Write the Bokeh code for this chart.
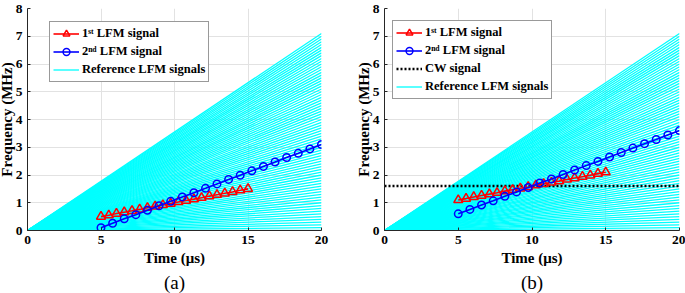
from bokeh.plotting import figure
from bokeh.layouts import row
from bokeh.models import Range1d, Legend, LegendItem, Title, FixedTicker
from bokeh.embed import file_html
from bokeh.resources import INLINE

# ---------------- data ----------------
time_ticks = [0, 5, 10, 15, 20]
freq_ticks = [0, 1, 2, 3, 4, 5, 6, 7, 8]

# reference LFM fan: each line starts at (0 us, 0 MHz) and ends at (20 us, end freq)
ref_t = [0.0, 20.0]
ref_end_freq = [0.0, 0.1, 0.2, 0.3, 0.4, 0.5, 0.6, 0.7, 0.8, 0.9,
                1.0, 1.1, 1.2, 1.3, 1.4, 1.5, 1.6, 1.7, 1.8, 1.9,
                2.0, 2.1, 2.2, 2.3, 2.4, 2.5, 2.6, 2.7, 2.8, 2.9,
                3.0, 3.1, 3.2, 3.3, 3.4, 3.5, 3.6, 3.7, 3.8, 3.9,
                4.0, 4.1, 4.2, 4.3, 4.4, 4.5, 4.6, 4.7, 4.8, 4.9,
                5.0, 5.1, 5.2, 5.3, 5.4, 5.5, 5.6, 5.7, 5.8, 5.9,
                6.0, 6.1, 6.2, 6.3, 6.4, 6.5, 6.6, 6.7, 6.8, 6.9,
                7.0, 7.1]

lfm1_t = [5.00, 5.53, 6.05, 6.58, 7.11, 7.63, 8.16, 8.68, 9.21, 9.74,
          10.26, 10.79, 11.32, 11.84, 12.37, 12.89, 13.42, 13.95, 14.47, 15.00]
lfm1_f_a = [0.50, 0.55, 0.61, 0.66, 0.71, 0.76, 0.82, 0.87, 0.92, 0.97,
            1.03, 1.08, 1.13, 1.18, 1.24, 1.29, 1.34, 1.39, 1.45, 1.50]
lfm1_f_b = [1.10, 1.15, 1.21, 1.26, 1.31, 1.36, 1.42, 1.47, 1.52, 1.57,
            1.63, 1.68, 1.73, 1.78, 1.84, 1.89, 1.94, 1.99, 2.05, 2.10]

lfm2_t = [5.00, 5.79, 6.58, 7.37, 8.16, 8.95, 9.74, 10.53, 11.32, 12.11,
          12.89, 13.68, 14.47, 15.26, 16.05, 16.84, 17.63, 18.42, 19.21, 20.00]
lfm2_f_a = [0.10, 0.26, 0.42, 0.57, 0.73, 0.89, 1.05, 1.21, 1.36, 1.52,
            1.68, 1.84, 1.99, 2.15, 2.31, 2.47, 2.63, 2.78, 2.94, 3.10]
lfm2_f_b = [0.60, 0.76, 0.92, 1.07, 1.23, 1.39, 1.55, 1.71, 1.86, 2.02,
            2.18, 2.34, 2.49, 2.65, 2.81, 2.97, 3.13, 3.28, 3.44, 3.60]

cw_t = [0.0, 20.0]
cw_f = [1.6, 1.6]

labels_lfm1 = "1ˢᵗ LFM signal"
labels_lfm2 = "2ⁿᵈ LFM signal"
label_cw = "CW signal"
label_ref = "Reference LFM signals"

SERIF = "Liberation Serif"
AX = "#262626"


def make_panel(caption, f1, f2, with_cw, width, bl, br, legend_loc):
    p = figure(width=width, height=293, output_backend="svg", toolbar_location=None,
               x_range=Range1d(0, 20), y_range=Range1d(0, 8),
               min_border_left=bl, min_border_right=br, min_border_top=8,
               min_border_bottom=62)
    p.outline_line_color = None
    p.background_fill_color = "white"

    # reference fan
    xs = [ref_t for _ in ref_end_freq]
    ys = [[0.0, f] for f in ref_end_freq]
    ref = p.multi_line(xs, ys, line_color="#00ffff", line_width=1.3)

    items = []
    cw = None
    if with_cw:
        cw = p.line(cw_t, cw_f, line_color="black", line_width=2.5, line_dash="2 2")

    l1 = p.line(lfm1_t, f1, line_color="#ff0000", line_width=1.6)
    s1 = p.scatter(lfm1_t, f1, marker="triangle", size=9, line_color="#ff0000",
                   fill_color=None, line_width=1.5)
    l2 = p.line(lfm2_t, f2, line_color="#0000ff", line_width=1.6)
    s2 = p.scatter(lfm2_t, f2, marker="circle", size=7.5, line_color="#0000ff",
                   fill_color=None, line_width=1.5)

    items.append(LegendItem(label=labels_lfm1, renderers=[l1, s1]))
    items.append(LegendItem(label=labels_lfm2, renderers=[l2, s2]))
    if with_cw:
        items.append(LegendItem(label=label_cw, renderers=[cw]))
    items.append(LegendItem(label=label_ref, renderers=[ref]))

    leg = Legend(items=items, location=legend_loc)
    leg.label_text_font = SERIF
    leg.label_text_font_style = "bold"
    leg.label_text_font_size = "12.5px"
    leg.label_text_color = "black"
    leg.glyph_width = 26
    leg.glyph_height = 17
    leg.label_height = 17
    leg.label_standoff = 3
    leg.spacing = 1
    leg.padding = 3
    leg.margin = 0
    leg.border_line_color = "#333333"
    leg.border_line_width = 1
    leg.background_fill_alpha = 1
    p.add_layout(leg, "center")

    # grid
    for g in (p.xgrid, p.ygrid):
        g.grid_line_color = "#e2e2e2"
        g.grid_line_width = 1
    p.xaxis.ticker = FixedTicker(ticks=time_ticks)
    p.yaxis.ticker = FixedTicker(ticks=freq_ticks)
    p.xgrid.ticker = FixedTicker(ticks=time_ticks)
    p.ygrid.ticker = FixedTicker(ticks=freq_ticks)

    for ax in (p.xaxis[0], p.yaxis[0]):
        ax.axis_line_color = AX
        ax.major_tick_line_color = AX
        ax.major_tick_in = 3
        ax.major_tick_out = 0
        ax.minor_tick_line_color = None
        ax.major_label_text_font = SERIF
        ax.major_label_text_font_style = "bold"
        ax.major_label_text_font_size = "13.5px"
        ax.major_label_text_color = "black"
        ax.axis_label_text_font = SERIF
        ax.axis_label_text_font_style = "bold"
        ax.axis_label_text_font_size = "15px"
        ax.axis_label_text_color = "black"
    p.xaxis.axis_label = "Time (μs)"
    p.yaxis.axis_label = "Frequency (MHz)"
    p.xaxis.major_label_standoff = 5
    p.xaxis.axis_label_standoff = 3
    p.yaxis.major_label_standoff = 5
    p.yaxis.axis_label_standoff = -2

    cap = Title(text=caption, align="center", text_font=SERIF, text_font_style="normal",
                text_font_size="19px", text_color="black", standoff=2, offset=0)
    p.add_layout(cap, "below")
    return p


pa = make_panel("(a)", lfm1_f_a, lfm2_f_a, False, 347, 0, 21, (22, 148))
pa.margin = (0, 0, 0, -5)
pb = make_panel("(b)", lfm1_f_b, lfm2_f_b, True, 343, 42, 6, (8, 131))

layout = row(pa, pb)
open("out.html", "w").write(file_html(layout, INLINE))
